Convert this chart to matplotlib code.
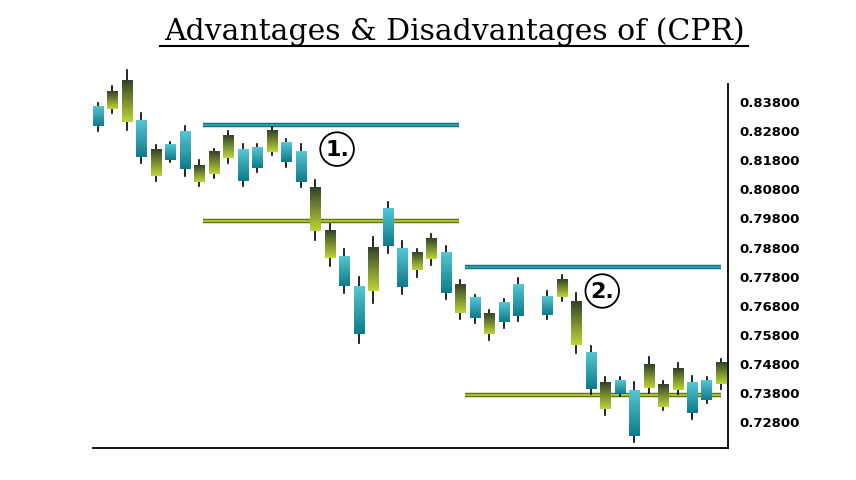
import numpy as np
import matplotlib.pyplot as plt
from matplotlib.colors import LinearSegmentedColormap

# candle data: high, body top, body bottom, low, kind (t=teal, g=green)
highs = [.8373, .8432, .8487, .8339, .8229, .8239, .8294, .8177, .8215, .8277,
         .8232, .8232, .8291, .8250, .8232, .8109, .7957, .7871, .7775, .7913,
         .8033, .7899, .7871, .7923, .7882, .7765, .7713, .7662, .7700, .7772,
         .7727, .7782, .7720, .7538, .7431, .7431, .7414, .7500, .7418, .7480,
         .7435, .7431, .7493]
tops = [.8360, .8414, .8452, .8315, .8212, .8229, .8274, .8160, .8205, .8263,
        .8212, .8219, .8280, .8236, .8208, .8081, .7933, .7847, .7741, .7875,
        .8012, .7875, .7858, .7906, .7858, .7748, .7703, .7648, .7686, .7748,
        .7710, .7765, .7689, .7517, .7411, .7421, .7387, .7476, .7404, .7462,
        .7414, .7418, .7480]
bottoms = [.8294, .8353, .8308, .8188, .8122, .8177, .8146, .8102, .8129, .8184,
           .8105, .8150, .8205, .8170, .8102, .7933, .7840, .7744, .7579, .7727,
           .7882, .7741, .7799, .7837, .7720, .7651, .7634, .7579, .7620, .7641,
           .7645, .7706, .7541, .7390, .7321, .7373, .7229, .7394, .7328, .7387,
           .7308, .7352, .7407]
lows = [.8277, .8339, .8280, .8167, .8105, .8170, .8122, .8088, .8115, .8167,
        .8088, .8136, .8194, .8153, .8085, .7902, .7813, .7720, .7548, .7686,
        .7858, .7717, .7775, .7816, .7700, .7631, .7617, .7559, .7600, .7624,
        .7631, .7693, .7514, .7373, .7301, .7366, .7208, .7376, .7318, .7373,
        .7287, .7342, .7390]
kinds = "tggtgttgggttgttggttgttggtgtgtttggtgttgggttg"
positions = list(range(30)) + list(range(31, 44))

# CPR levels: (top line, bottom line, x start, x end)
cpr_levels = [(.8298, .7968, 7.25, 24.9), (.7810, .7370, 25.3, 43.0)]
labels = [("1.", 16.5, .8215), ("2.", 34.8, .7727)]
yticks = [.838, .828, .818, .808, .798, .788, .778, .768, .758, .748, .738, .728]

teal_cmap = LinearSegmentedColormap.from_list("teal", ["#0e7b8b", "#56c6d3"])
green_cmap = LinearSegmentedColormap.from_list("green", ["#bcd636", "#34422a"])
grad = np.linspace(0, 1, 64).reshape(-1, 1)

fig = plt.figure(figsize=(8.56, 4.81), dpi=100)
ax = fig.add_axes([93 / 856, 1 - 449 / 481, (728 - 93) / 856, (449 - 85) / 481])

w = 0.35
for x, hi, tp, bt, lo, k in zip(positions, highs, tops, bottoms, lows, kinds):
    ax.plot([x, x], [lo, hi], color="black", lw=1.2, zorder=2, clip_on=False)
    cmap = teal_cmap if k == "t" else green_cmap
    ax.imshow(grad, cmap=cmap, aspect="auto", origin="lower",
              extent=(x - w, x + w, bt, tp), zorder=3, clip_on=False)

for top, bot, x0, x1 in cpr_levels:
    ax.plot([x0, x1], [top, top], color="#0d6f7a", lw=3.2, zorder=1, solid_capstyle="butt")
    ax.plot([x0, x1], [top, top], color="#2a9fac", lw=1.6, zorder=1, solid_capstyle="butt")
    ax.plot([x0, x1], [bot, bot], color="#5a6a14", lw=3.2, zorder=1, solid_capstyle="butt")
    ax.plot([x0, x1], [bot, bot], color="#a9c22a", lw=1.6, zorder=1, solid_capstyle="butt")

for txt, x, y in labels:
    ax.text(x, y, txt, ha="center", va="center", fontsize=16, fontweight="bold",
            bbox=dict(boxstyle="circle,pad=0.22", fc="white", ec="black", lw=1.3), zorder=5)

ax.set_xlim(-0.345, 43.48)
ax.set_ylim(.7187, .8439)
ax.set_yticks(yticks)
ax.set_yticklabels([f"{v:.5f}" for v in yticks], fontweight="bold", fontsize=9.5)
ax.yaxis.tick_right()
ax.tick_params(axis="y", length=0, pad=8)
ax.set_xticks([])
ax.spines["top"].set_visible(False)
ax.spines["left"].set_visible(False)
ax.spines["right"].set_linewidth(1.3)
ax.spines["bottom"].set_linewidth(1.3)

fig.text(454 / 856, 1 - 32 / 481, "Advantages & Disadvantages of (CPR)",
         ha="center", va="center", fontsize=21.5, family="DejaVu Serif")
fig.add_artist(plt.Line2D([160 / 856, 748 / 856], [1 - 47 / 481] * 2, color="black", lw=1.5))

fig.savefig("out.png", dpi=100)
